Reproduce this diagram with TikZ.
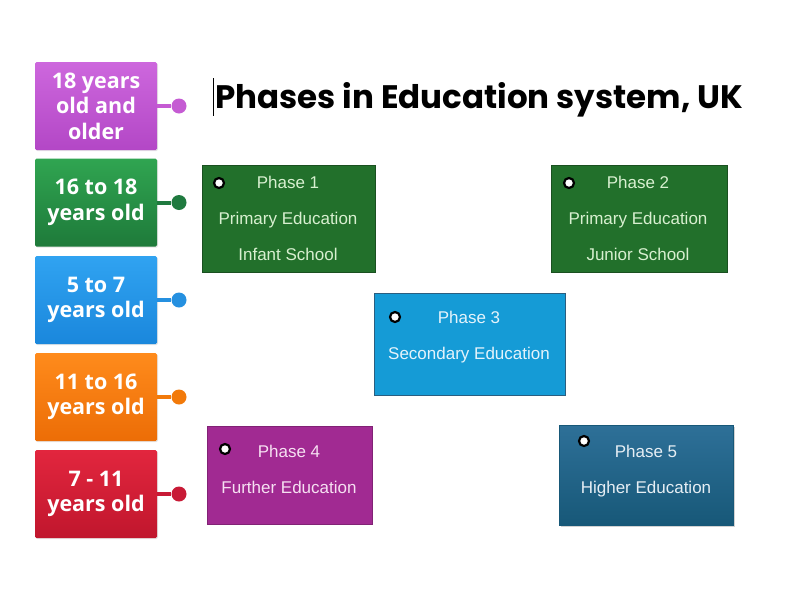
\documentclass[tikz,border=0pt]{standalone}
\usepackage{fontspec}
\setmainfont{Liberation Sans}
\newfontfamily\agefont{Open Sans}
\newfontfamily\titlefont{Poppins}
\usepackage{xcolor}
\usetikzlibrary{positioning,shadows}

\definecolor{violetA}{HTML}{CD67DD}
\definecolor{violetB}{HTML}{B347C6}
\definecolor{violetD}{HTML}{C55BD3}
\definecolor{greenA}{HTML}{30A551}
\definecolor{greenB}{HTML}{1E7A3A}
\definecolor{greenD}{HTML}{1F7A3F}
\definecolor{blueA}{HTML}{30A3F1}
\definecolor{blueB}{HTML}{1A87DC}
\definecolor{blueD}{HTML}{2590E0}
\definecolor{orangeA}{HTML}{FF8B1C}
\definecolor{orangeB}{HTML}{EC6D06}
\definecolor{orangeD}{HTML}{F27A0A}
\definecolor{redA}{HTML}{E2263E}
\definecolor{redB}{HTML}{C0162D}
\definecolor{redD}{HTML}{C81A36}
\definecolor{phgreen}{HTML}{22702B}
\definecolor{phgreenline}{HTML}{1A5020}
\definecolor{phblue}{HTML}{159BD6}
\definecolor{phblueline}{HTML}{2A5E80}
\definecolor{phpurple}{HTML}{A12A92}
\definecolor{phtealA}{HTML}{2E7098}
\definecolor{phtealB}{HTML}{175878}

\begin{document}
\begin{tikzpicture}[
				x=1pt, y=-1pt,
				agebox/.style={
					rectangle, rounded corners=1.5pt, inner sep=0pt,
					minimum width=122pt, minimum height=88pt,
					align=center, text=white,
					font=\agefont\bfseries\fontsize{21.5}{25.5}\selectfont,
					drop shadow={opacity=0.2, shadow xshift=1pt, shadow yshift=-1pt}
				},
				agedot/.style={circle, inner sep=0pt, minimum size=15pt},
				agelink/.style={line width=4pt},
				phasebox/.style={rectangle, line width=1pt, inner sep=0pt},
				phasetext/.style={align=center, inner sep=0pt, font=\fontsize{17}{36}\selectfont},
				phasedot/.style={
					circle, draw=black, fill=white, line width=2.2pt,
					inner sep=0pt, minimum size=10pt
				}
				]
				% Nền và khung ảnh
				\fill[white] (0,0) rectangle (800,600);
				\useasboundingbox (0,0) rectangle (800,600);
				
				% Tiêu đề
				\node[anchor=base west, inner sep=0pt, font=\titlefont\bfseries\fontsize{32.5}{36}\selectfont]
				(title) at (215,108) {Phases in Education system, UK};
				\draw[line width=1pt] (213,78) -- (213,116);
				
				% Các ô độ tuổi bên trái
				\node[agebox, top color=violetA, bottom color=violetB] (age18) at (96,106) {18 years\\old and\\older};
				\node[agebox, top color=greenA, bottom color=greenB] (age16) at (96,202.5) {16 to 18\\years old};
				\node[agebox, top color=blueA, bottom color=blueB] (age5) at (96,300) {5 to 7\\years old};
				\node[agebox, top color=orangeA, bottom color=orangeB] (age11) at (96,397) {11 to 16\\years old};
				\node[agebox, top color=redA, bottom color=redB] (age7) at (96,494) {7 - 11\\years old};
				
				% Chấm nối của từng ô
				\node[agedot, fill=violetD] (dot18) at (179,106) {};
				\node[agedot, fill=greenD] (dot16) at (179,202.5) {};
				\node[agedot, fill=blueD] (dot5) at (179,300) {};
				\node[agedot, fill=orangeD] (dot11) at (179,397) {};
				\node[agedot, fill=redD] (dot7) at (179,494) {};
				\draw[agelink, violetD] (age18.east) -- (dot18);
				\draw[agelink, greenD] (age16.east) -- (dot16);
				\draw[agelink, blueD] (age5.east) -- (dot5);
				\draw[agelink, orangeD] (age11.east) -- (dot11);
				\draw[agelink, redD] (age7.east) -- (dot7);
				
				% Các giai đoạn
				\node[phasebox, draw=phgreenline, fill=phgreen, minimum width=173pt, minimum height=107pt] (ph1) at (288.5,218.5) {};
				\node[phasebox, draw=phgreenline, fill=phgreen, minimum width=176pt, minimum height=107pt] (ph2) at (639,218.5) {};
				\node[phasebox, draw=phblueline, fill=phblue, minimum width=191pt, minimum height=102pt] (ph3) at (469.5,344) {};
				\node[phasebox, draw=phpurple!80!black, fill=phpurple, minimum width=165pt, minimum height=98pt] (ph4) at (289.5,475) {};
				\node[phasebox, draw=phtealB, top color=phtealA, bottom color=phtealB, minimum width=174pt, minimum height=100pt,
				drop shadow={opacity=0.35, shadow xshift=2pt, shadow yshift=-2pt}] (ph5) at (646,475) {};
				
				\node[phasetext, text={rgb,255:red,216;green,240;blue,208}] (txt1) at (288,218) {Phase 1\\Primary Education\\Infant School};
				\node[phasetext, text={rgb,255:red,216;green,240;blue,208}] (txt2) at (638,218) {Phase 2\\Primary Education\\Junior School};
				\node[phasetext, text={rgb,255:red,228;green,243;blue,251}] (txt3) at (469,337.5) {Phase 3\\Secondary Education};
				\node[phasetext, text={rgb,255:red,246;green,224;blue,242}] (txt4) at (289,469) {Phase 4\\Further Education};
				\node[phasetext, text={rgb,255:red,230;green,238;blue,244}] (txt5) at (646,471) {Phase 5\\Higher Education};
				
				% Chấm tròn nhỏ
				\node[phasedot] (pd1) at (219,183) {};
				\node[phasedot] (pd2) at (569,183) {};
				\node[phasedot] (pd3) at (395,317) {};
				\node[phasedot] (pd4) at (225,449) {};
				\node[phasedot] (pd5) at (584,441) {};
				
			\end{tikzpicture}
\end{document}
